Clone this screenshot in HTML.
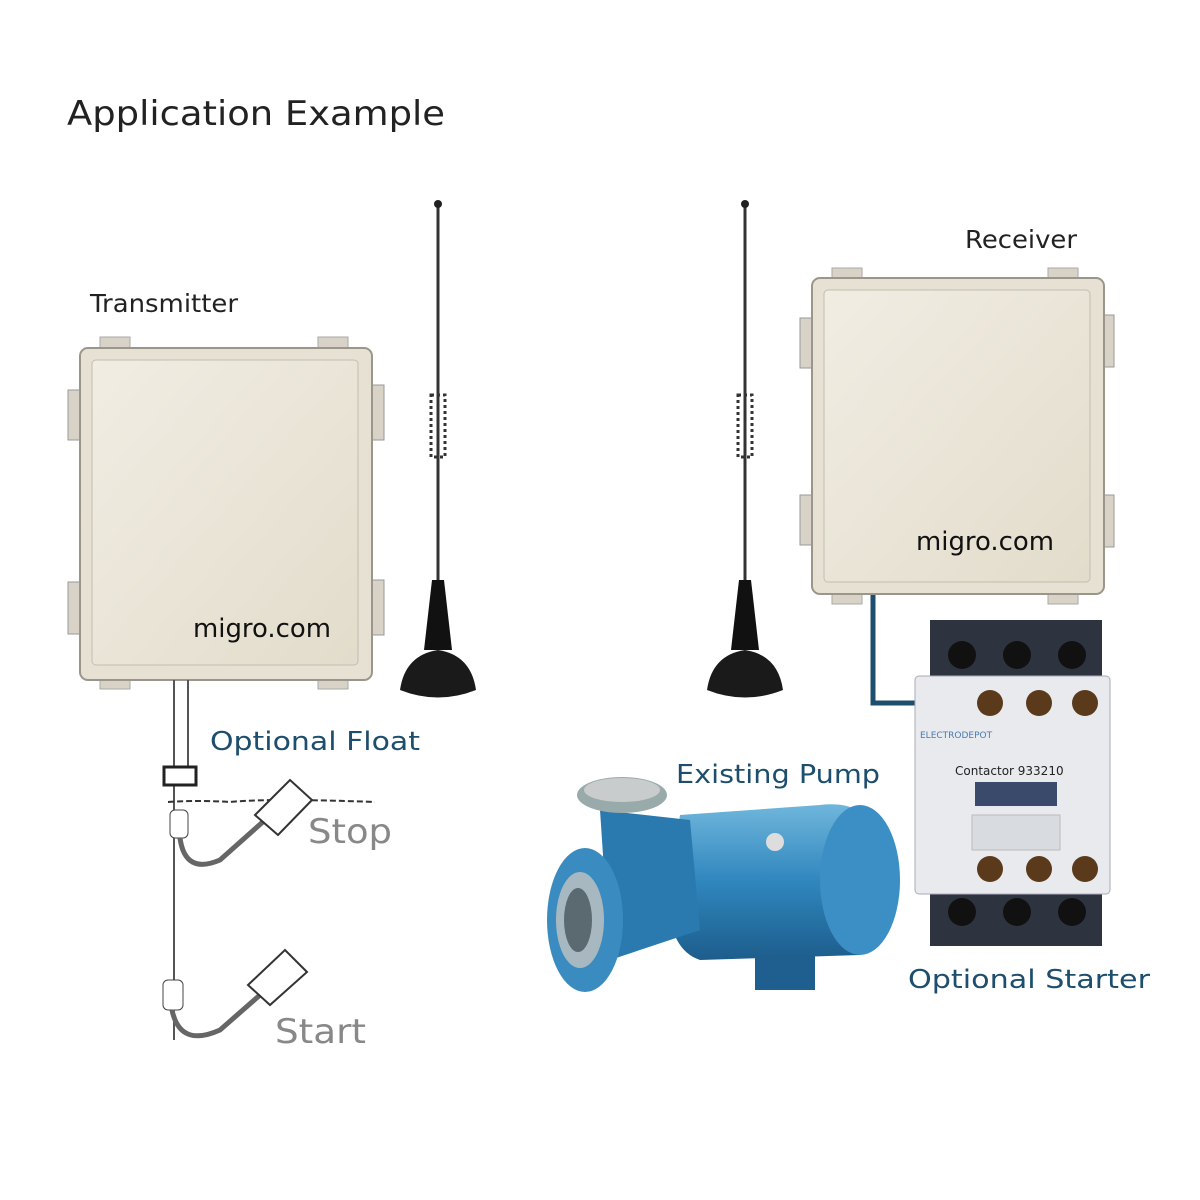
<!DOCTYPE html>
<html><head><meta charset="utf-8"><style>
html,body{margin:0;padding:0;background:#fff;}
svg{display:block;}
text{font-family:"DejaVu Sans","Liberation Sans",sans-serif;}
</style></head><body>
<svg width="1200" height="1200" viewBox="0 0 1200 1200" xmlns="http://www.w3.org/2000/svg">
<defs>
<linearGradient id="box" x1="0" y1="0" x2="1" y2="1">
<stop offset="0" stop-color="#f1ede3"/><stop offset="1" stop-color="#e2dccb"/></linearGradient>
<linearGradient id="blue" x1="0" y1="0" x2="0" y2="1">
<stop offset="0" stop-color="#6fb6dc"/><stop offset="0.5" stop-color="#2f86bd"/><stop offset="1" stop-color="#1d5d8c"/></linearGradient>
</defs>
<text x="67" y="125" font-size="34" fill="#222" textLength="378" lengthAdjust="spacingAndGlyphs">Application Example</text>

<!-- Transmitter -->
<text x="90" y="312" font-size="25" fill="#222" textLength="148" lengthAdjust="spacingAndGlyphs">Transmitter</text>
<g>
<rect x="100" y="337" width="30" height="15" fill="#d8d3c6" stroke="#aaa"/>
<rect x="318" y="337" width="30" height="15" fill="#d8d3c6" stroke="#aaa"/>
<rect x="100" y="675" width="30" height="14" fill="#d8d3c6" stroke="#aaa"/>
<rect x="318" y="675" width="30" height="14" fill="#d8d3c6" stroke="#aaa"/>
<rect x="68" y="390" width="18" height="50" fill="#d8d3c6" stroke="#999"/>
<rect x="68" y="582" width="18" height="52" fill="#d8d3c6" stroke="#999"/>
<rect x="366" y="385" width="18" height="55" fill="#d8d3c6" stroke="#999"/>
<rect x="366" y="580" width="18" height="55" fill="#d8d3c6" stroke="#999"/>
<rect x="80" y="348" width="292" height="332" rx="8" fill="#e6e1d3" stroke="#9a968c" stroke-width="2"/>
<rect x="92" y="360" width="266" height="305" rx="4" fill="url(#box)" stroke="#c2bdb0"/>
<text x="193" y="637" font-size="26" fill="#111" textLength="138" lengthAdjust="spacingAndGlyphs">migro.com</text>
</g>

<!-- Receiver -->
<text x="965" y="248" font-size="25" fill="#222" textLength="112" lengthAdjust="spacingAndGlyphs">Receiver</text>
<g>
<rect x="832" y="268" width="30" height="14" fill="#d8d3c6" stroke="#aaa"/>
<rect x="1048" y="268" width="30" height="14" fill="#d8d3c6" stroke="#aaa"/>
<rect x="832" y="590" width="30" height="14" fill="#d8d3c6" stroke="#aaa"/>
<rect x="1048" y="590" width="30" height="14" fill="#d8d3c6" stroke="#aaa"/>
<rect x="800" y="318" width="16" height="50" fill="#d8d3c6" stroke="#999"/>
<rect x="800" y="495" width="16" height="50" fill="#d8d3c6" stroke="#999"/>
<rect x="1098" y="315" width="16" height="52" fill="#d8d3c6" stroke="#999"/>
<rect x="1098" y="495" width="16" height="52" fill="#d8d3c6" stroke="#999"/>
<rect x="812" y="278" width="292" height="316" rx="8" fill="#e6e1d3" stroke="#9a968c" stroke-width="2"/>
<rect x="824" y="290" width="266" height="292" rx="4" fill="url(#box)" stroke="#c2bdb0"/>
<text x="916" y="550" font-size="26" fill="#111" textLength="138" lengthAdjust="spacingAndGlyphs">migro.com</text>
</g>

<!-- Antennas -->
<g>
<line x1="438" y1="205" x2="438" y2="600" stroke="#333" stroke-width="3"/>
<circle cx="438" cy="204" r="4" fill="#222"/>
<rect x="431" y="395" width="14" height="62" fill="none" stroke="#333" stroke-width="3" stroke-dasharray="3 3"/>
<path d="M432 580 L444 580 L452 650 L424 650 Z" fill="#111"/>
<path d="M400 690 Q405 655 438 650 Q471 655 476 690 Q438 705 400 690Z" fill="#1a1a1a"/>
</g>
<g transform="translate(307,0)">
<line x1="438" y1="205" x2="438" y2="600" stroke="#333" stroke-width="3"/>
<circle cx="438" cy="204" r="4" fill="#222"/>
<rect x="431" y="395" width="14" height="62" fill="none" stroke="#333" stroke-width="3" stroke-dasharray="3 3"/>
<path d="M432 580 L444 580 L452 650 L424 650 Z" fill="#111"/>
<path d="M400 690 Q405 655 438 650 Q471 655 476 690 Q438 705 400 690Z" fill="#1a1a1a"/>
</g>

<!-- Wire -->
<path d="M873 595 L873 703 L916 703" fill="none" stroke="#1e4e6e" stroke-width="5"/>

<!-- Contactor -->
<rect x="930" y="620" width="172" height="62" fill="#2e3340"/>
<circle cx="962" cy="655" r="14" fill="#111"/><circle cx="1017" cy="655" r="14" fill="#111"/><circle cx="1072" cy="655" r="14" fill="#111"/>
<rect x="930" y="890" width="172" height="56" fill="#2e3340"/>
<circle cx="962" cy="912" r="14" fill="#111"/><circle cx="1017" cy="912" r="14" fill="#111"/><circle cx="1072" cy="912" r="14" fill="#111"/>
<rect x="915" y="676" width="195" height="218" rx="4" fill="#e8eaee" stroke="#aab"/>
<circle cx="990" cy="703" r="13" fill="#5a3a1a"/><circle cx="1039" cy="703" r="13" fill="#5a3a1a"/><circle cx="1085" cy="703" r="13" fill="#5a3a1a"/>
<circle cx="990" cy="869" r="13" fill="#5a3a1a"/><circle cx="1039" cy="869" r="13" fill="#5a3a1a"/><circle cx="1085" cy="869" r="13" fill="#5a3a1a"/>
<text x="920" y="738" font-size="9" fill="#4a7ab0">ELECTRODEPOT</text>
<text x="955" y="775" font-size="12" fill="#222">Contactor 933210</text>
<rect x="975" y="782" width="82" height="24" fill="#3a4a6a"/>
<rect x="972" y="815" width="88" height="35" fill="#d8dbe0" stroke="#bbb"/>
<text x="908" y="988" font-size="26" fill="#1e4e6e" textLength="242" lengthAdjust="spacingAndGlyphs">Optional Starter</text>

<!-- Pump -->
<text x="676" y="783" font-size="26" fill="#1e4e6e" textLength="204" lengthAdjust="spacingAndGlyphs">Existing Pump</text>
<rect x="755" y="870" width="60" height="120" fill="#1f5f8f"/>
<path d="M680 815 L820 805 Q860 800 880 830 L895 880 Q890 940 860 955 L700 960 Q670 950 668 900 Z" fill="url(#blue)"/>
<ellipse cx="860" cy="880" rx="40" ry="75" fill="#3c8fc4"/>
<path d="M600 810 L690 820 L700 930 L610 960 Z" fill="#2a7ab0"/>
<ellipse cx="622" cy="795" rx="45" ry="18" fill="#9aa"/>
<ellipse cx="622" cy="790" rx="38" ry="12" fill="#c8cccc"/>
<ellipse cx="585" cy="920" rx="38" ry="72" fill="#3a8cc0"/>
<ellipse cx="580" cy="920" rx="24" ry="48" fill="#a8b8c0"/>
<ellipse cx="578" cy="920" rx="14" ry="32" fill="#5a6a70"/>
<circle cx="775" cy="842" r="9" fill="#ddd"/>

<!-- Float -->
<text x="210" y="750" font-size="26" fill="#1e4e6e" textLength="210" lengthAdjust="spacingAndGlyphs">Optional Float</text>
<line x1="174" y1="680" x2="174" y2="1040" stroke="#555" stroke-width="2"/>
<line x1="188" y1="680" x2="188" y2="770" stroke="#555" stroke-width="2"/>
<rect x="164" y="767" width="32" height="18" fill="#fff" stroke="#222" stroke-width="3"/>
<path d="M168 802 Q200 800 230 802 Q270 798 375 802" fill="none" stroke="#333" stroke-width="2" stroke-dasharray="6 3"/>
<rect x="170" y="810" width="18" height="28" rx="5" fill="#fff" stroke="#444"/>
<path d="M180 838 Q185 875 220 860 L265 820" fill="none" stroke="#666" stroke-width="5"/>
<path d="M255 815 L290 780 L312 800 L278 835 Z" fill="#fff" stroke="#333" stroke-width="2"/>
<text x="308" y="843" font-size="34" fill="#888" textLength="84" lengthAdjust="spacingAndGlyphs">Stop</text>
<rect x="163" y="980" width="20" height="30" rx="5" fill="#fff" stroke="#444"/>
<path d="M172 1010 Q180 1048 220 1030 L260 995" fill="none" stroke="#666" stroke-width="5"/>
<path d="M248 985 L285 950 L307 972 L270 1005 Z" fill="#fff" stroke="#333" stroke-width="2"/>
<text x="275" y="1043" font-size="34" fill="#888" textLength="91" lengthAdjust="spacingAndGlyphs">Start</text>
</svg>
</body></html>
